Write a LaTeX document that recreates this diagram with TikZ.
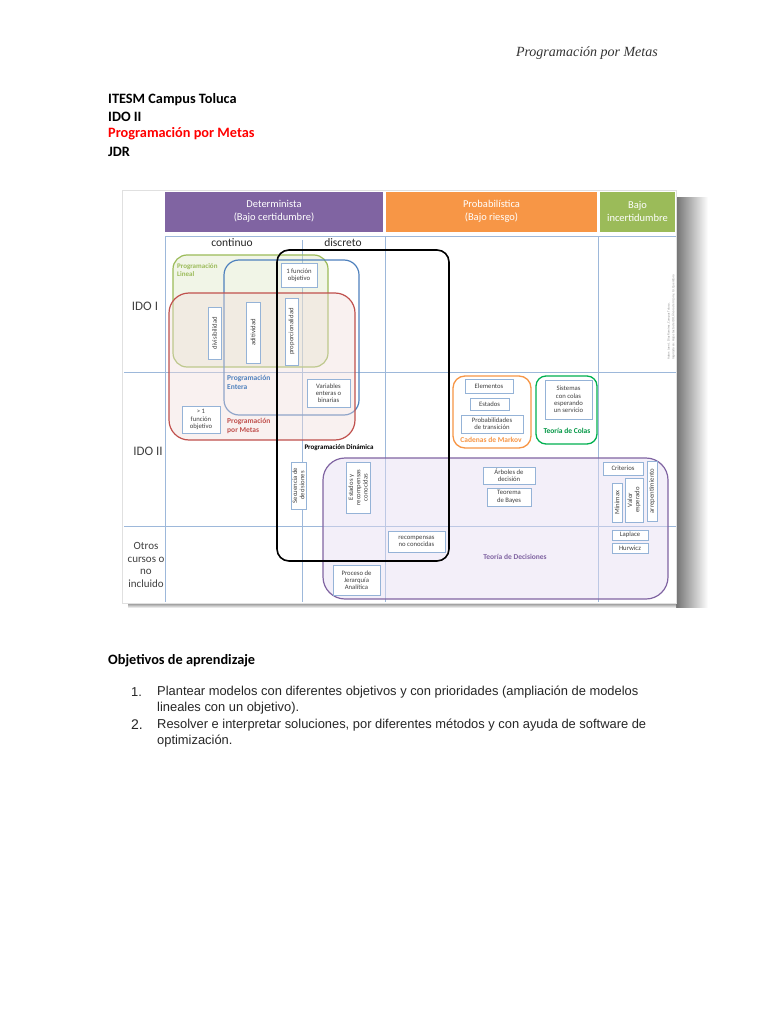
\documentclass[tikz,border=0pt]{standalone}
\usepackage{fontspec}
\setmainfont{Carlito}
\newfontfamily\arialfont{Liberation Sans}
\newfontfamily\seriffont{Liberation Serif}
\definecolor{hdrpurple}{HTML}{8064A2}
\definecolor{hdrorange}{HTML}{F79646}
\definecolor{hdrgreen}{HTML}{9BBB59}
\definecolor{gridc}{HTML}{9DB8DA}
\definecolor{linc}{HTML}{9BBB59}
\definecolor{linfill}{HTML}{D7E4BD}
\definecolor{entc}{HTML}{4F81BD}
\definecolor{metc}{HTML}{C0504D}
\definecolor{metfill}{HTML}{F2DCDB}
\definecolor{decc}{HTML}{8064A2}
\definecolor{decfill}{HTML}{E6DDF2}
\definecolor{colc}{HTML}{00B050}
\definecolor{boxc}{HTML}{95B3D7}
\definecolor{txtc}{HTML}{404040}
\definecolor{titred}{HTML}{FF0000}
\begin{document}
\begin{tikzpicture}[x=1pt,y=-1pt,
  sbox/.style={draw=boxc, fill=white, line width=0.6pt, inner sep=0.5pt, align=center, text=txtc, font=\fontsize{6.7}{7.3}\selectfont},
  hdrtext/.style={text=white, font=\fontsize{10.5}{13}\selectfont, align=center},
  gridline/.style={draw=gridc, line width=0.8pt},
  pagetext/.style={font=\bfseries\fontsize{14.3}{16}\selectfont, anchor=west, inner sep=0pt},
  rowlab/.style={text=txtc, font=\fontsize{13}{15}\selectfont, inner sep=0pt},
  grplab/.style={font=\bfseries\fontsize{7}{8}\selectfont, align=left, inner sep=0pt},
  listtext/.style={font=\arialfont\fontsize{12.9}{16}\selectfont, anchor=west, inner sep=0pt, text=black!85}
]
\useasboundingbox (0,0) rectangle (768,1024);
\fill[white] (0,0) rectangle (768,1024);

% page header
\node[font=\seriffont\itshape\fontsize{14}{16}\selectfont, anchor=east, inner sep=0pt, text=black!80] (hdr) at (658,53) {Programación por Metas};
\node[pagetext] (t1) at (108,100) {ITESM Campus Toluca};
\node[pagetext] (t2) at (108,117) {IDO II};
\node[pagetext, text=titred] (t3) at (108,134) {Programación por Metas};
\node[pagetext] (t4) at (108,152) {JDR};

% diagram frame and shadow
\shade[left color=black!55, right color=white] (676,198) rectangle (708,607);
\shade[top color=black!45, bottom color=white] (128,603) rectangle (676,608);
\fill[white] (122,190) rectangle (676,603);
\draw[black!12, line width=0.5pt] (122,190) rectangle (676,603);

% column headers
\fill[hdrpurple] (165,192) rectangle (383,232);
\fill[hdrorange] (386,192) rectangle (597,232);
\fill[hdrgreen] (600,192) rectangle (675,232);
\node[hdrtext] (hdet) at (274,211.5) {Determinista\\(Bajo certidumbre)};
\node[hdrtext] (hprob) at (491.5,211.5) {Probabilística\\(Bajo riesgo)};
\node[hdrtext] (hbajo) at (637.5,211.5) {Bajo\\incertidumbre};

% grid lines
\draw[gridline] (165,236) -- (676,236);
\draw[gridline] (124,372) -- (676,372);
\draw[gridline] (124,526) -- (676,526);
\draw[gridline] (165,236) -- (165,602);
\draw[gridline] (302,240) -- (302,602);
\draw[gridline] (385,236) -- (385,602);
\draw[gridline] (598,236) -- (598,602);

% row and column labels
\node[rowlab] (ido1) at (145,306) {IDO I};
\node[rowlab] (ido2) at (148,451) {IDO II};
\node[text=txtc, font=\fontsize{11}{12.6}\selectfont, align=center, inner sep=0pt] (otros) at (146,565) {Otros\\cursos o\\no\\incluido};
\node[rowlab, text=black!85, font=\fontsize{11.5}{13}\selectfont] (cont) at (232,243) {continuo};
\node[rowlab, text=black!85, font=\fontsize{11.5}{13}\selectfont] (disc) at (343,243) {discreto};

% regions
\draw[draw=linc, line width=1.2pt, fill=linfill, fill opacity=0.35, rounded corners=14] (173,255) rectangle (328,367);
\draw[draw=entc, line width=1.2pt, rounded corners=15] (224,260) rectangle (359,415);
\draw[draw=metc, line width=1.2pt, fill=metfill, fill opacity=0.4, rounded corners=20] (169,293) rectangle (355,440);
\draw[draw=decc, line width=1.2pt, fill=decfill, fill opacity=0.45, rounded corners=22] (323,458) rectangle (668,599);
\draw[draw=hdrorange, line width=1.3pt, fill=white, rounded corners=12] (453,376) rectangle (531,448);
\draw[draw=colc, line width=1.3pt, fill=white, rounded corners=10] (536,376) rectangle (597,444);
\draw[draw=black, line width=1.6pt, rounded corners=12] (277,250) rectangle (449,561);

% group labels
\node[grplab, text=linc, anchor=north west] (llin) at (177,263) {Programación\\Lineal};
\node[grplab, text=entc, anchor=north west, font=\bfseries\fontsize{7.5}{9}\selectfont] (lent) at (227,375) {Programación\\Entera};
\node[grplab, text=metc, anchor=north west, font=\bfseries\fontsize{7.5}{9}\selectfont] (lmet) at (227,418) {Programación\\por Metas};
\node[grplab, text=black] (ldin) at (339,448) {Programación Dinámica};
\node[grplab, text=hdrorange, font=\bfseries\fontsize{7.5}{9}\selectfont] (lmar) at (491,440) {Cadenas de Markov};
\node[grplab, text=colc!85!black, font=\bfseries\fontsize{7.5}{9}\selectfont] (lcol) at (567,431) {Teoría de Colas};
\node[grplab, text=decc, font=\bfseries\fontsize{7.5}{9}\selectfont] (ldec) at (515,557) {Teoría de Decisiones};

% small boxes
\node[sbox, minimum width=36, minimum height=24] (f1) at (299,275) {1 función\\objetivo};
\node[sbox, rotate=90, minimum width=52, minimum height=13] (div) at (214.5,333) {divisibilidad};
\node[sbox, rotate=90, minimum width=61, minimum height=14] (adi) at (253,332.5) {aditividad};
\node[sbox, rotate=90, minimum width=67, minimum height=13] (prop) at (291.5,331.5) {proporcionalidad};
\node[sbox, minimum width=43, minimum height=28] (var) at (328.5,393) {Variables\\enteras o\\binarias};
\node[sbox, minimum width=38, minimum height=27] (gt1) at (201,419.5) {> 1\\función\\objetivo};
\node[sbox, rotate=90, minimum width=47, minimum height=15] (sec) at (298.5,485.5) {Secuencia de\\decisiones};
\node[sbox, rotate=90, minimum width=51, minimum height=24] (est) at (358,487.5) {Estados y\\recompensas\\conocidas};
\node[sbox, minimum width=57, minimum height=21] (rnc) at (416.5,541.5) {recompensas\\no conocidas};
\node[sbox, minimum width=47, minimum height=30] (ahp) at (356.5,580) {Proceso de\\Jerarquía\\Analítica};
\node[sbox, minimum width=48, minimum height=14] (elem) at (489,386) {Elementos};
\node[sbox, minimum width=39, minimum height=12] (estd) at (489.5,404) {Estados};
\node[sbox, minimum width=62, minimum height=18] (prob) at (492,424) {Probabilidades\\de transición};
\node[sbox, minimum width=47, minimum height=39] (sist) at (568.5,399.5) {Sistemas\\con colas\\esperando\\un servicio};
\node[sbox, minimum width=52, minimum height=17] (arb) at (509,475.5) {Árboles de\\decisión};
\node[sbox, minimum width=44, minimum height=18] (bay) at (509,497) {Teorema\\de Bayes};
\node[sbox, minimum width=40, minimum height=13] (crit) at (623,468.5) {Criterios};
\node[sbox, rotate=90, minimum width=39, minimum height=10] (mmx) at (617,502.5) {Minimax};
\node[sbox, rotate=90, minimum width=44, minimum height=18] (val) at (634,500) {Valor\\esperado};
\node[sbox, rotate=90, minimum width=60, minimum height=10] (arr) at (652,491) {arrepentimiento};
\node[sbox, minimum width=36, minimum height=10] (lap) at (630,535) {Laplace};
\node[sbox, minimum width=36, minimum height=10] (hur) at (630,548) {Hurwicz};

% author note (tiny, vertical)
\node[rotate=90, anchor=south west, align=left, inner sep=0pt, text=black!45, font=\fontsize{3.2}{4.6}\selectfont] (auth) at (675,360) {Autor: Jaen J. Díaz Ramírez, Campus Toluca.\\Inspirado en: Hojas texto de IDO, Álvaro de Irizarry, Gr. Querétaro};

% learning objectives
\node[pagetext] (obj) at (108,661) {Objetivos de aprendizaje};
\node[listtext] (n1) at (131,692) {1.};
\node[listtext] (l1) at (157,692) {Plantear modelos con diferentes objetivos y con prioridades (ampliación de modelos};
\node[listtext] (l1b) at (157,708) {lineales con un objetivo).};
\node[listtext, font=\arialfont\fontsize{14}{16}\selectfont] (n2) at (131,725) {2.};
\node[listtext] (l2) at (157,725) {Resolver e interpretar soluciones, por diferentes métodos y con ayuda de software de};
\node[listtext] (l2b) at (157,741) {optimización.};
\end{tikzpicture}
\end{document}
